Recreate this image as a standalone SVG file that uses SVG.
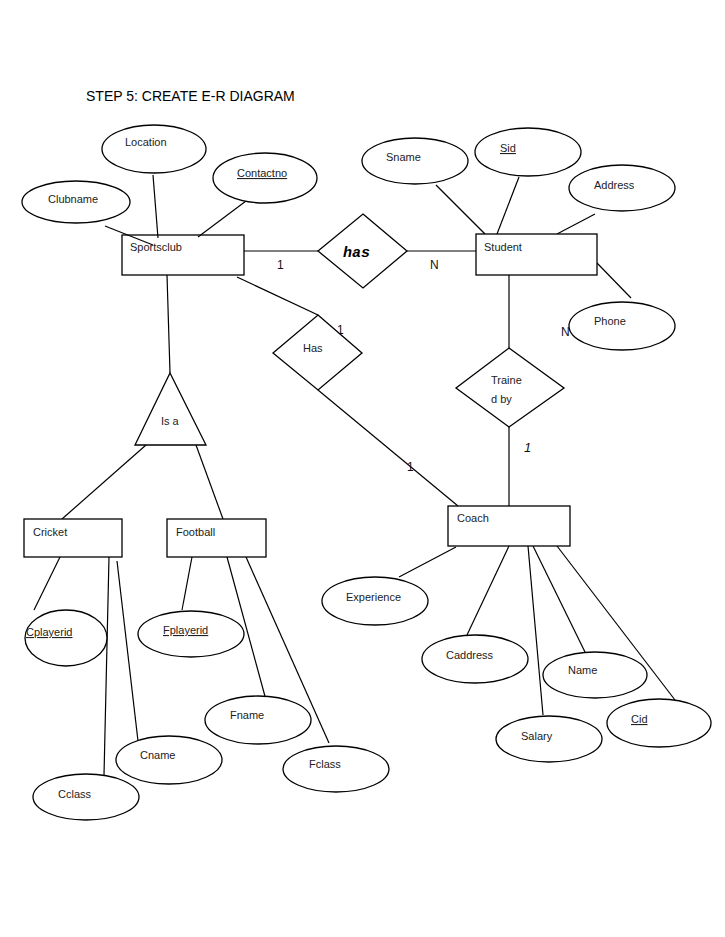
<svg xmlns="http://www.w3.org/2000/svg" width="725" height="937" viewBox="0 0 725 937">
<style>
.s{fill:#fff;stroke:#000;stroke-width:1.3}
.c line{stroke:#000;stroke-width:1.2}
text{font-family:"Liberation Sans",Arial,sans-serif;font-size:11px;fill:#222}
.u{text-decoration:underline}
.t{font-size:14px;fill:#000}
.k{font-size:12px;fill:#111}
.ki{font-size:13px;font-style:italic;fill:#111}
text.m{font-family:"Liberation Mono","DejaVu Sans Mono","Courier New",monospace;font-weight:bold;font-style:italic;font-size:15px;fill:#000}
</style>
<rect width="725" height="937" fill="#fff"/>
<text class="t" x="86" y="101">STEP 5: CREATE E-R DIAGRAM</text>
<g class="c" id="connectors">
<line x1="105" y1="226" x2="153" y2="245"/>
<line x1="153" y1="175" x2="158" y2="238"/>
<line x1="250" y1="198" x2="198" y2="237"/>
<line x1="244" y1="251" x2="318" y2="251"/>
<line x1="407" y1="251" x2="476" y2="251"/>
<line x1="436" y1="185" x2="485" y2="234"/>
<line x1="519" y1="177" x2="497" y2="234"/>
<line x1="595" y1="214" x2="557" y2="234"/>
<line x1="597" y1="263" x2="631" y2="298"/>
<line x1="509" y1="275" x2="509" y2="348"/>
<line x1="509" y1="427" x2="509" y2="506"/>
<line x1="237" y1="277" x2="318" y2="315"/>
<line x1="318" y1="390" x2="458" y2="506"/>
<line x1="167" y1="275" x2="170" y2="373"/>
<line x1="146" y1="445" x2="62" y2="519"/>
<line x1="196" y1="445" x2="223" y2="519"/>
<line x1="60" y1="557" x2="34" y2="610"/>
<line x1="109" y1="557" x2="104" y2="775"/>
<line x1="117" y1="561" x2="138" y2="741"/>
<line x1="192" y1="557" x2="182" y2="610"/>
<line x1="227" y1="557" x2="266" y2="700"/>
<line x1="246" y1="557" x2="329" y2="743"/>
<line x1="456" y1="547" x2="399" y2="577"/>
<line x1="509" y1="546" x2="467" y2="635"/>
<line x1="528" y1="546" x2="543" y2="715"/>
<line x1="533" y1="546" x2="585" y2="652"/>
<line x1="557" y1="546" x2="675" y2="700"/>
</g>
<g id="cardinalities">
<text class="k" x="277" y="269">1</text>
<text class="k" x="430" y="269">N</text>
<text class="k" x="337" y="334">1</text>
<text class="k" x="407" y="471">1</text>
<text class="k" x="561" y="336">N</text>
<text class="ki" x="524" y="452">1</text>
</g>
<g id="location"><ellipse class="s" cx="154" cy="149" rx="52" ry="24"/><text x="125" y="146">Location</text></g>
<g id="contactno"><ellipse class="s" cx="265" cy="178" rx="52" ry="25"/><text class="u" x="237" y="177">Contactno</text></g>
<g id="clubname"><ellipse class="s" cx="76" cy="202" rx="54" ry="21"/><text x="48" y="203">Clubname</text></g>
<g id="sportsclub"><rect class="s" x="122" y="235" width="122" height="40" fill-opacity="0"/><text x="130" y="251">Sportsclub</text></g>
<g id="has"><polygon class="s" points="363,214 407,251 363,288 318,251"/><text class="m" x="343" y="257">has</text></g>
<g id="student"><rect class="s" x="476" y="234" width="121" height="41"/><text x="484" y="251">Student</text></g>
<g id="sname"><ellipse class="s" cx="415" cy="161" rx="53" ry="23"/><text x="386" y="161">Sname</text></g>
<g id="sid"><ellipse class="s" cx="528" cy="152" rx="53" ry="24"/><text class="u" x="500" y="152">Sid</text></g>
<g id="address"><ellipse class="s" cx="622" cy="188" rx="53" ry="23"/><text x="594" y="189">Address</text></g>
<g id="phone"><ellipse class="s" cx="622" cy="326" rx="53" ry="24"/><text x="594" y="325">Phone</text></g>
<g id="trainedby"><polygon class="s" points="509,348 564,388 509,427 456,388"/><text x="491" y="384">Traine</text><text x="491" y="403">d by</text></g>
<g id="coach"><rect class="s" x="448" y="506" width="122" height="40"/><text x="457" y="522">Coach</text></g>
<g id="has2"><polygon class="s" points="318,315 362,353 318,390 273,353"/><text x="303" y="352">Has</text></g>
<g id="isa"><polygon class="s" points="170,373 206,445 135,445"/><text x="161" y="425">Is a</text></g>
<g id="cricket"><rect class="s" x="24" y="519" width="98" height="38"/><text x="33" y="536">Cricket</text></g>
<g id="football"><rect class="s" x="167" y="519" width="99" height="38"/><text x="176" y="536">Football</text></g>
<g id="cplayerid"><ellipse class="s" cx="66" cy="638" rx="41" ry="28"/><text class="u" x="26" y="636">Cplayerid</text></g>
<g id="cname"><ellipse class="s" cx="169" cy="760" rx="53" ry="24"/><text x="140" y="759">Cname</text></g>
<g id="cclass"><ellipse class="s" cx="86" cy="797" rx="53" ry="23"/><text x="58" y="798">Cclass</text></g>
<g id="fplayerid"><ellipse class="s" cx="191" cy="634" rx="53" ry="23"/><text class="u" x="163" y="634">Fplayerid</text></g>
<g id="fname"><ellipse class="s" cx="258" cy="720" rx="53" ry="24"/><text x="230" y="719">Fname</text></g>
<g id="fclass"><ellipse class="s" cx="336" cy="769" rx="53" ry="23"/><text x="309" y="768">Fclass</text></g>
<g id="experience"><ellipse class="s" cx="375" cy="601" rx="53" ry="24"/><text x="346" y="601">Experience</text></g>
<g id="caddress"><ellipse class="s" cx="475" cy="659" rx="53" ry="24"/><text x="446" y="659">Caddress</text></g>
<g id="salary"><ellipse class="s" cx="549" cy="739" rx="53" ry="23"/><text x="521" y="740">Salary</text></g>
<g id="name"><ellipse class="s" cx="595" cy="675" rx="52" ry="23"/><text x="568" y="674">Name</text></g>
<g id="cid"><ellipse class="s" cx="659" cy="723" rx="52" ry="24"/><text class="u" x="631" y="723">Cid</text></g>
</svg>
